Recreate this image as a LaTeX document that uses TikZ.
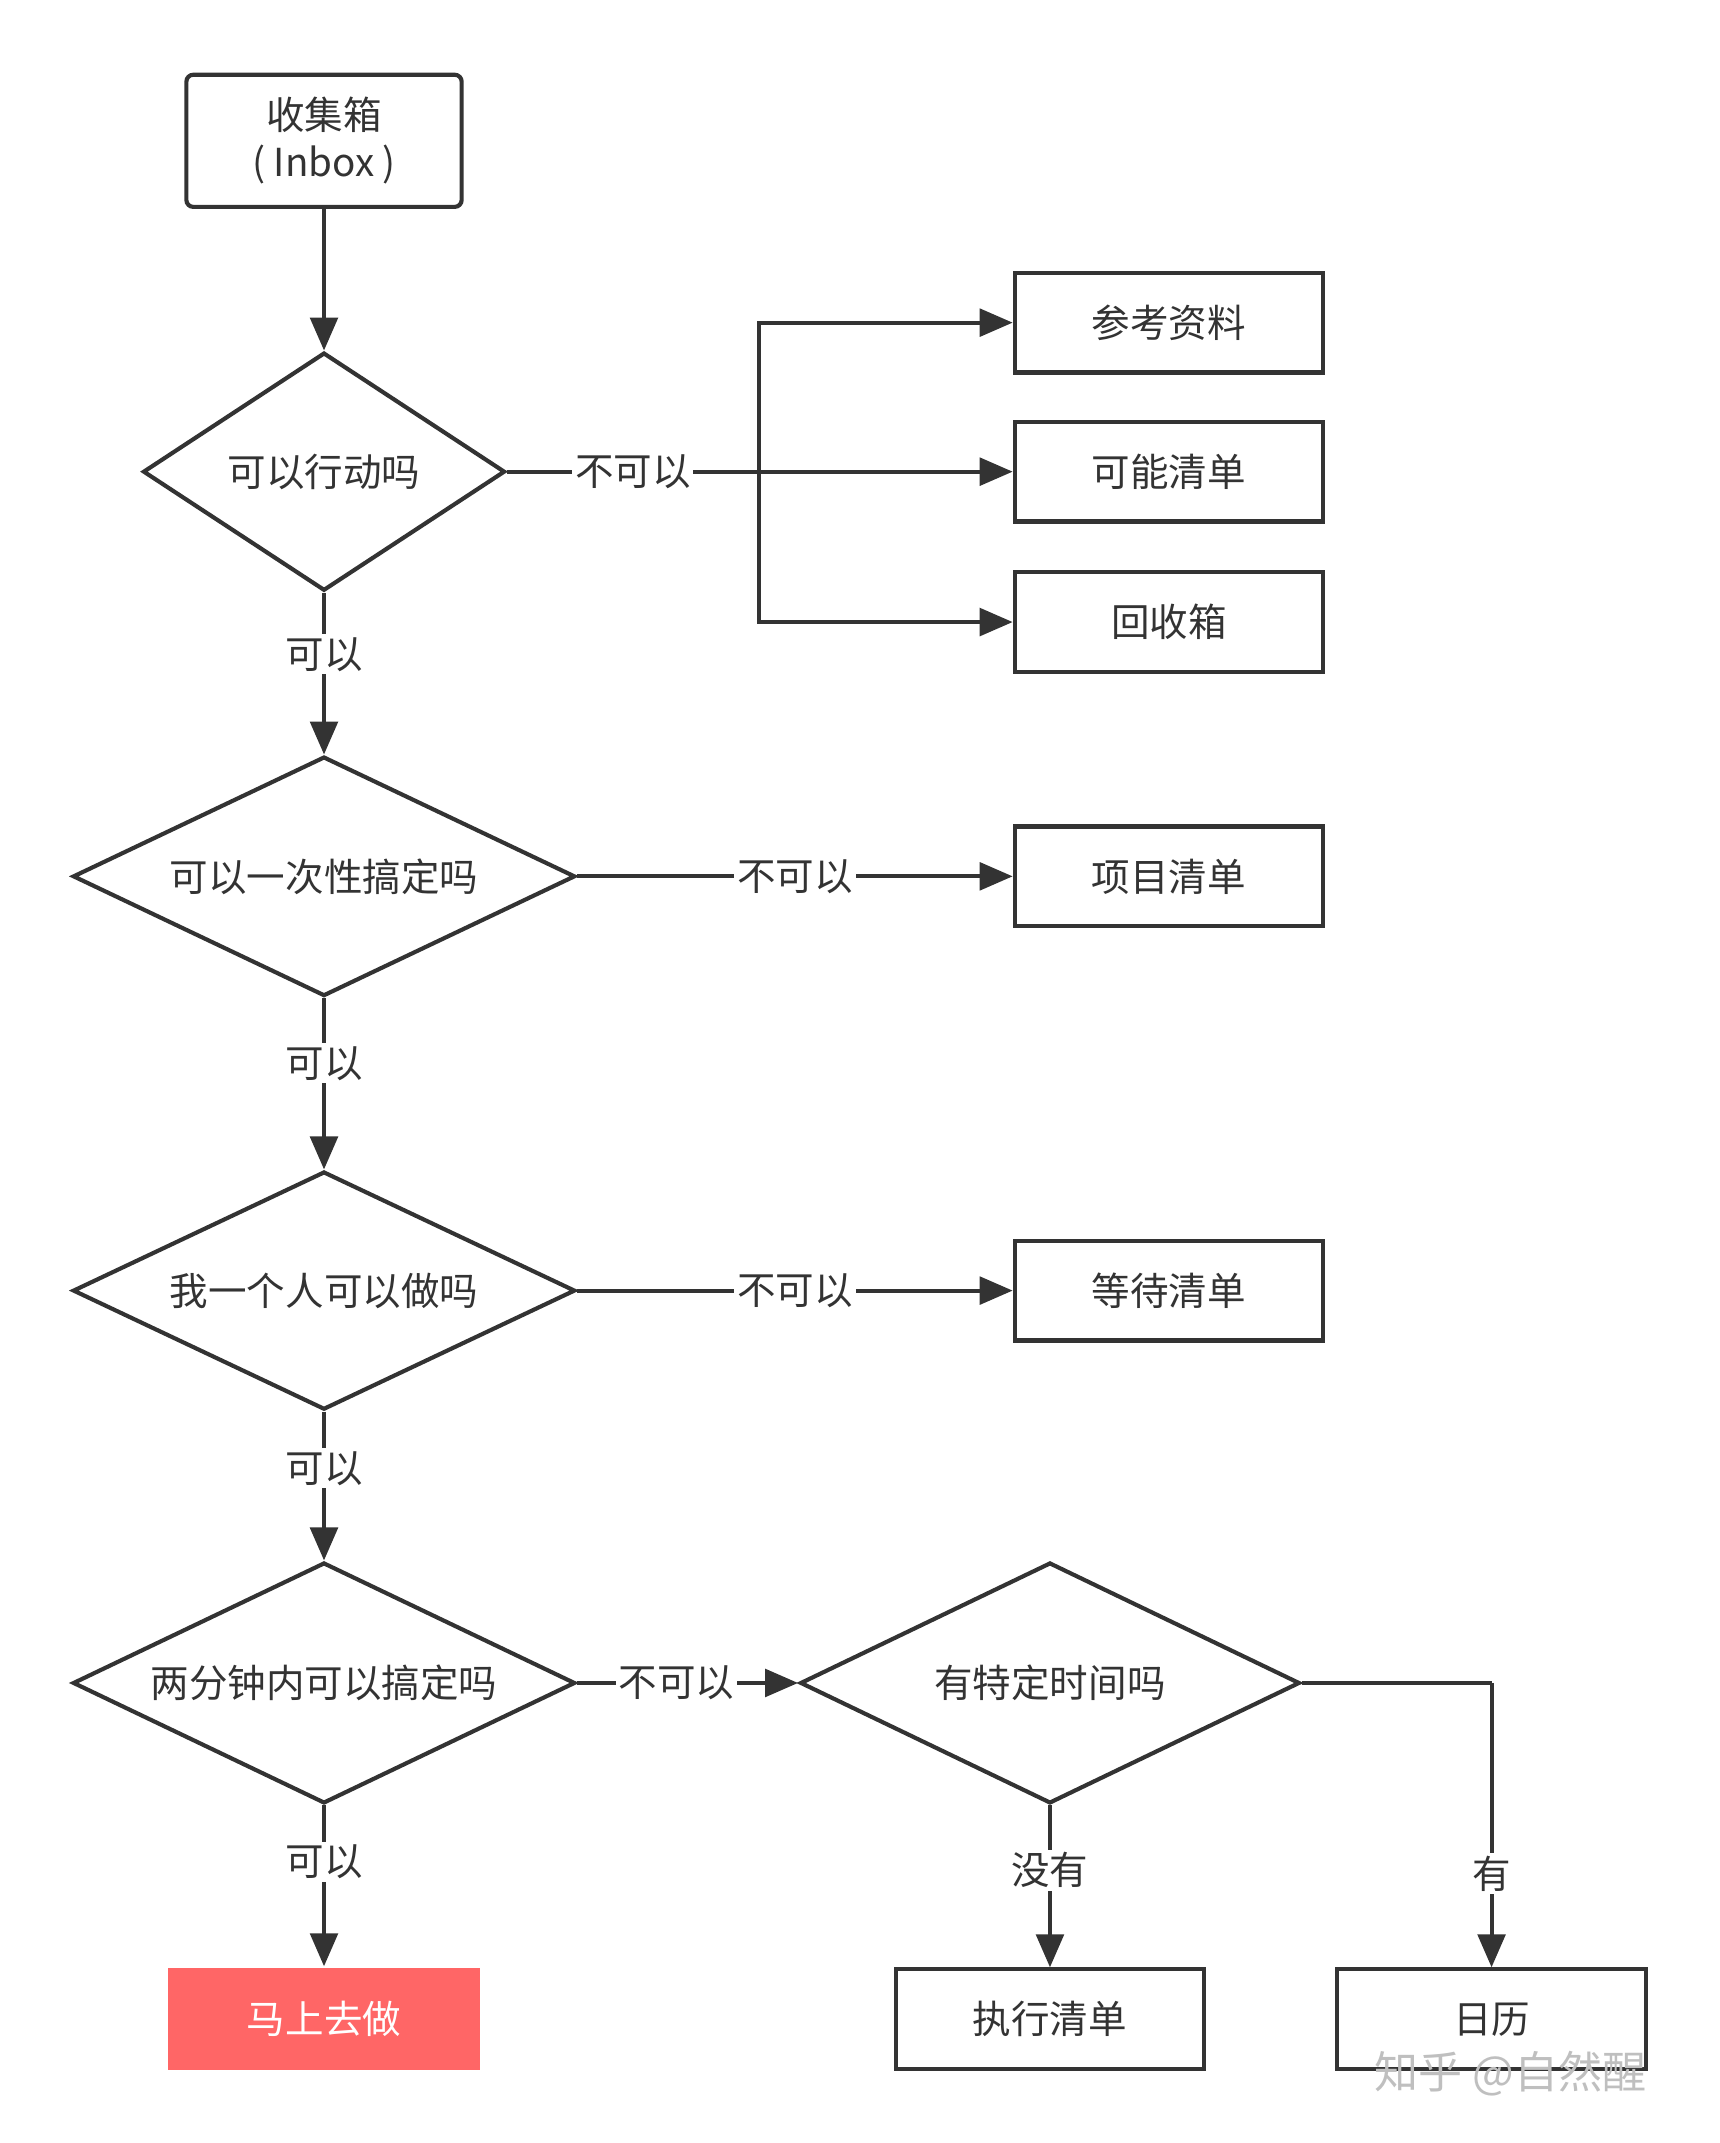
\documentclass[tikz,border=0pt]{standalone}
\usepackage{fontspec}
\setmainfont{Noto Sans CJK SC}
\usetikzlibrary{arrows.meta,shapes.geometric}
\definecolor{ln}{HTML}{333333}
\begin{document}
\begin{tikzpicture}[x=0.9933pt,y=-0.9933pt,
  every node/.style={font=\fontsize{28}{34}\selectfont,text=ln},
  box/.style={draw=ln,line width=3pt,minimum width=224pt,minimum height=72.5pt,inner sep=0pt},
  dia/.style={draw=ln,line width=3pt,diamond,aspect=2.1,inner sep=0pt},
  ar/.style={draw=ln,line width=3pt,-{Triangle[length=24pt,width=20pt]}},
  ln/.style={draw=ln,line width=3pt},
  lab/.style={fill=white,inner sep=2pt}]
\useasboundingbox (0,0) rectangle (1257.4,1567.5);
\node[box,rounded corners=5pt,minimum width=200pt,minimum height=96pt,align=center] (in) at (237,103) {收集箱\\( Inbox )};
\node[dia,minimum width=263pt,minimum height=173pt] (d1) at (237,345) {可以行动吗};
\node[dia,minimum width=365pt,minimum height=174pt] (d2) at (237,641) {可以一次性搞定吗};
\node[dia,minimum width=365pt,minimum height=173pt] (d3) at (237,944) {我一个人可以做吗};
\node[dia,minimum width=365pt,minimum height=175pt] (d4) at (237,1231) {两分钟内可以搞定吗};
\node[dia,minimum width=363pt,minimum height=175pt] (d5) at (768,1231) {有特定时间吗};
\node[box] (b1) at (855,236) {参考资料};
\node[box] (b2) at (855,345) {可能清单};
\node[box] (b3) at (855,455) {回收箱};
\node[box] (b4) at (855,641) {项目清单};
\node[box] (b5) at (855,944) {等待清单};
\node[box,draw=none,fill=red!60,minimum width=226pt,minimum height=74pt,text=white] (go) at (237,1477) {马上去做};
\node[box] (b6) at (768,1477) {执行清单};
\node[box] (b7) at (1091,1477) {日历};
\coordinate (j) at (555,345);
\coordinate (c7) at (1091,1231);
\draw[ar] (in) -- (d1);
\draw[ln] (d1.east) -- node[lab,pos=0.5]{不可以} (j);
\draw[ar] (j) -- (b2);
\draw[ar] (j) |- (b1);
\draw[ar] (j) |- (b3);
\draw[ar] (d1) -- node[lab,pos=0.38]{可以} (d2);
\draw[ar] (d2) -- node[lab,pos=0.38]{可以} (d3);
\draw[ar] (d3) -- node[lab,pos=0.38]{可以} (d4);
\draw[ar] (d4) -- node[lab,pos=0.35]{可以} (go);
\draw[ar] (d2) -- node[lab,pos=0.5]{不可以} (b4);
\draw[ar] (d3) -- node[lab,pos=0.5]{不可以} (b5);
\draw[ar] (d4) -- node[lab,pos=0.45]{不可以} (d5);
\draw[ar] (d5) -- node[lab,pos=0.4]{没有} (b6);
\draw[ln] (d5.east) -- (c7);
\draw[ar] (c7) -- node[lab,pos=0.67]{有} (b7);
\node[text=gray!50,font=\fontsize{32}{36}\selectfont] (wm) at (1105,1517) {知乎 @自然醒};
\end{tikzpicture}
\end{document}
